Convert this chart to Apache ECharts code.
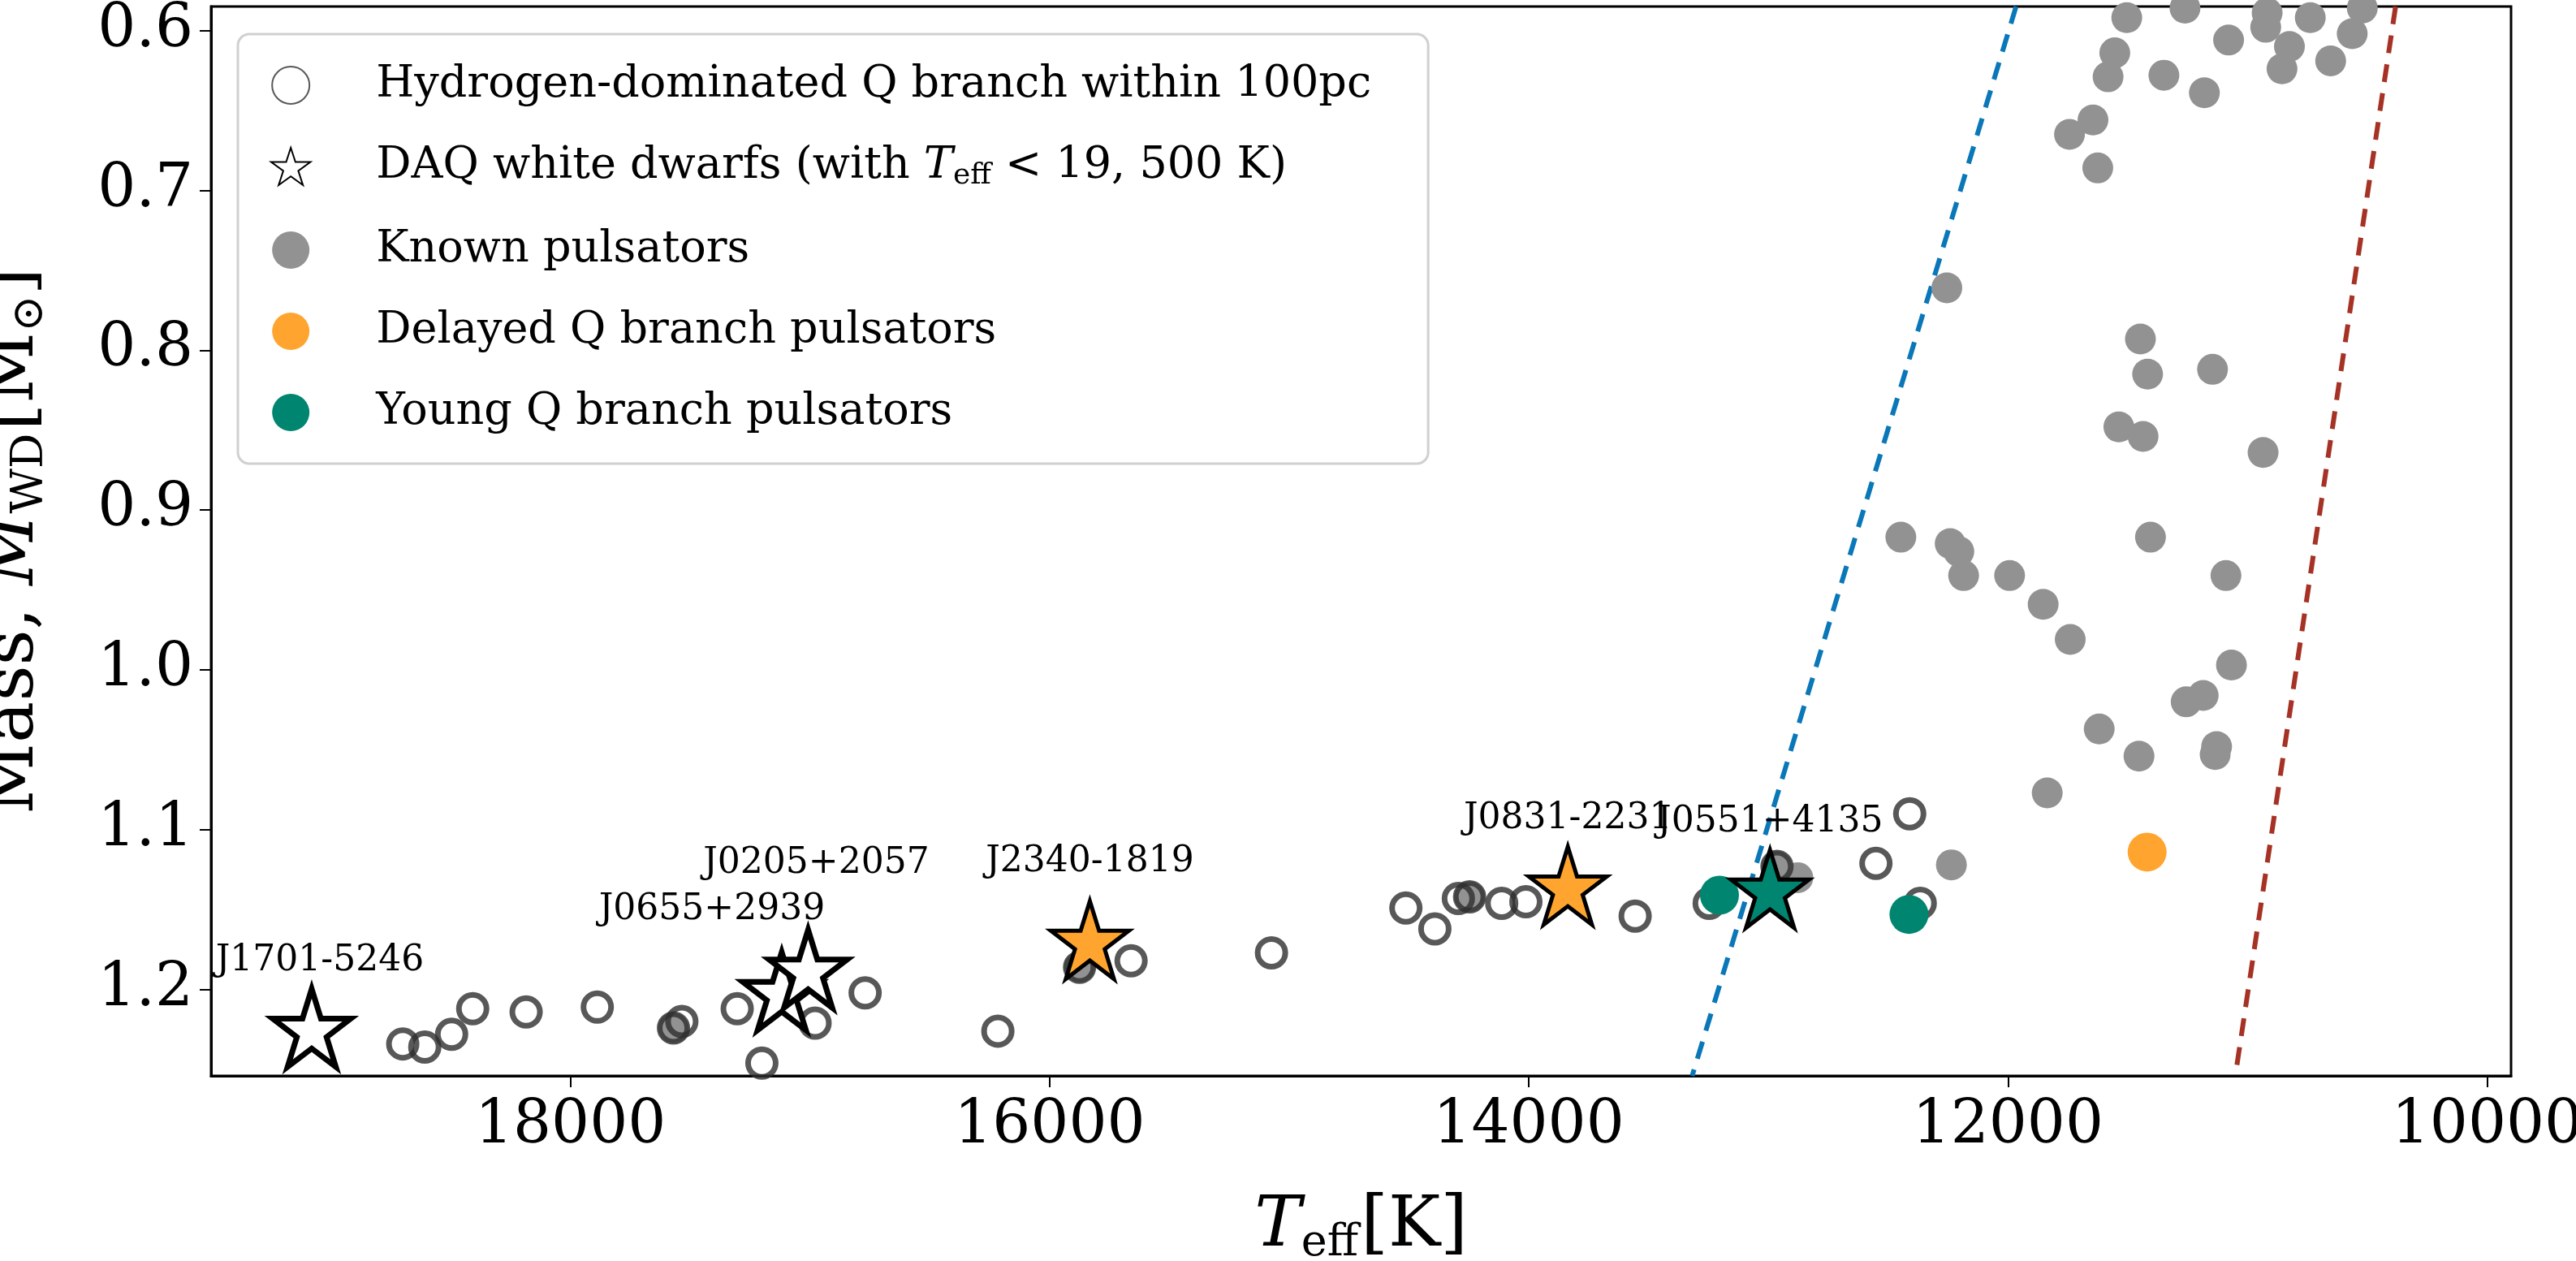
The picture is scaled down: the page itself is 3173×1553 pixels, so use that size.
<!DOCTYPE html>
<html>
<head>
<meta charset="utf-8">
<script src="https://cdn.jsdelivr.net/npm/echarts@6/dist/echarts.min.js"></script>
<style>html,body{margin:0;padding:0;background:#fff}#chart{width:3173px;height:1553px}</style>
</head>
<body>
<div id="chart"></div>
<script>
// Teff [K], mass [Msun]
const qBranch = [
  [18700,1.234],[18608,1.236],[18496,1.228],[18408,1.212],[18185,1.214],[17888,1.211],
  [17570,1.224],[17535,1.220],[17304,1.212],[17201,1.246],[16979,1.221],[16770,1.202],
  [16216,1.226],[15875,1.186],[15660,1.182],[15074,1.177],[14513,1.149],[14392,1.162],
  [14294,1.143],[14247,1.142],[14113,1.146],[14012,1.145],[13556,1.154],[13247,1.146],
  [12964,1.123],[12551,1.121],[12410,1.090],[12366,1.146]
]
const daqNames = ['J1701-5246','J0655+2939','J0205+2057']
const daqValues = [[19080,1.224],[17118,1.201],[17008,1.187]]
const delayedStarNames = ['J2340-1819','J0831-2231']
const delayedStarValues = [[15832,1.169],[13837,1.135]]
const youngStarNames = ['J0551+4135']
const youngStarValues = [[12993,1.137]]
const knownPulsators = [
  [11504,0.592],[11261,0.586],[10918,0.589],[10738,0.592],[10521,0.586],[11079,0.606],
  [10924,0.598],[10563,0.602],[10825,0.610],[10856,0.624],[10653,0.619],[11554,0.614],
  [11582,0.629],[11349,0.628],[11180,0.639],[11645,0.656],[11743,0.665],[11625,0.686],
  [12255,0.761],[11447,0.793],[11417,0.815],[11146,0.812],[11537,0.848],[11436,0.854],
  [10935,0.864],[12447,0.917],[12241,0.921],[12205,0.926],[12185,0.941],[11993,0.941],
  [11853,0.959],[11740,0.981],[11405,0.917],[11090,0.941],[11067,0.997],[11256,1.020],
  [11185,1.016],[11619,1.037],[11453,1.054],[11129,1.048],[11135,1.053],[11836,1.077],
  [12236,1.122],[12877,1.130],[12973,1.257],[17570,1.224],[15875,1.186],[14247,1.142],[12964,1.123]
]
const delayedDots = [[11419,1.114]]
const youngDots = [[13204,1.141],[12413,1.153]]
const blueEdge = [[11966,0.585],[13318,1.254]]
const redEdge = [[10382,0.585],[11051,1.254]]
const xTicks = [18000,16000,14000,12000,10000]
const yTicks = [0.6,0.7,0.8,0.9,1.0,1.1,1.2]

const STAR = 'path://M0,-1 L0.225,-0.309 L0.951,-0.309 L0.363,0.118 L0.588,0.809 L0,0.382 L-0.588,0.809 L-0.363,0.118 L-0.951,-0.309 L-0.225,-0.309 Z'
const serif = 'DejaVu Serif'
// label offsets above each named star
const labelOffsets = {
  'J1701-5246':[10,-82],'J0655+2939':[-86,-100],'J0205+2057':[10,-130],
  'J2340-1819':[0,-96],'J0831-2231':[0,-82],'J0551+4135':[0,-82]
}
function named(names, values) {
  return values.map((v, i) => ({
    value: v, name: names[i],
    label: {show: true, formatter: names[i], position: 'inside', offset: labelOffsets[names[i]],
      fontFamily: serif, fontSize: 44, color: '#000'}
  }))
}

const chart = echarts.init(document.getElementById('chart'))
chart.setOption({
  animation: false,
  grid: {left: 260, right: 80, top: 8, bottom: 228, outerBoundsMode: 'none', containLabel: false,
    show: true, borderColor: '#000', borderWidth: 3, backgroundColor: 'transparent'},
  xAxis: {
    type: 'value', min: 9900, max: 19500, inverse: true,
    name: '{i|T}{s|eff} {n|[K]}', nameLocation: 'middle', nameGap: 140,
    nameTextStyle: {rich: {i: {fontFamily: serif, fontStyle: 'italic', fontSize: 86}, s: {fontFamily: serif, fontSize: 54, padding: [40,0,0,0]}, n: {fontFamily: serif, fontSize: 86}}},
    axisLine: {lineStyle: {color: '#000', width: 3}},
    axisTick: {customValues: xTicks, length: 14, lineStyle: {color: '#000', width: 2}},
    axisLabel: {customValues: xTicks, hideOverlap: false, formatter: v => String(v), fontFamily: serif, fontSize: 74, color: '#000', margin: 26},
    splitLine: {show: false}
  },
  yAxis: {
    type: 'value', min: 0.585, max: 1.254, inverse: true,
    name: '{n|Mass, }{i|M}{s|WD} {n|[M}{s|⊙}{n|]}', nameLocation: 'middle', nameGap: 195, nameRotate: 90,
    nameTextStyle: {rich: {i: {fontFamily: serif, fontStyle: 'italic', fontSize: 86}, s: {fontFamily: serif, fontSize: 54, padding: [40,0,0,0]}, n: {fontFamily: serif, fontSize: 86}}},
    axisLine: {lineStyle: {color: '#000', width: 3}},
    axisTick: {customValues: yTicks, length: 14, lineStyle: {color: '#000', width: 2}},
    axisLabel: {customValues: yTicks, hideOverlap: false, fontFamily: serif, fontSize: 74, color: '#000', margin: 22, formatter: v => v.toFixed(1)},
    splitLine: {show: false}
  },
  legend: {
    left: 293, top: 42, orient: 'vertical', itemGap: 46, padding: [36, 70, 36, 40],
    backgroundColor: '#fff', borderColor: '#d0d0d0', borderWidth: 3, borderRadius: 14,
    itemWidth: 60, itemHeight: 46,
    textStyle: {fontFamily: serif, fontSize: 54, color: '#000', padding: [0,0,0,70],
      rich: {n: {fontFamily: serif, fontSize: 54}, i: {fontFamily: serif, fontSize: 54, fontStyle: 'italic'}, s: {fontFamily: serif, fontSize: 36, padding: [24,0,0,0]}}},
    data: ['Q', 'DAQ', 'Known pulsators', 'Delayed Q branch pulsators', 'Young Q branch pulsators'],
    formatter: n => n === 'Q' ? 'Hydrogen-dominated Q branch within 100pc'
      : n === 'DAQ' ? '{n|DAQ white dwarfs (with }{i|T}{s|eff}{n| < 19, 500 K)}' : n
  },
  series: [
    {type: 'line', data: blueEdge, symbol: 'none', silent: true, lineStyle: {color: '#0a77b8', width: 6, type: [22, 14]}, z: 1},
    {type: 'line', data: redEdge, symbol: 'none', silent: true, lineStyle: {color: '#a53224', width: 6, type: [22, 14]}, z: 1},
    {name: 'Known pulsators', type: 'scatter', data: knownPulsators, symbolSize: 38, itemStyle: {color: '#929292', opacity: 1}, z: 2},
    {name: 'Q', type: 'scatter', data: qBranch, symbolSize: 34, itemStyle: {color: 'rgba(255,255,255,0)', borderColor: '#2e2e2e', borderWidth: 7}, z: 3},
    {name: 'Delayed Q branch pulsators', type: 'scatter', data: delayedDots, symbolSize: 48, itemStyle: {color: '#ffa52f', opacity: 1}, z: 4},
    {name: 'Young Q branch pulsators', type: 'scatter', data: youngDots, symbolSize: 48, itemStyle: {color: '#008670', opacity: 1}, z: 4},
    {name: 'DAQ', type: 'scatter', data: named(daqNames, daqValues), symbol: STAR, symbolSize: 96, itemStyle: {color: '#fff', borderColor: '#000', borderWidth: 7, opacity: 1}, z: 5},
    {name: 'Delayed Q branch pulsators', type: 'scatter', data: named(delayedStarNames, delayedStarValues), symbol: STAR, symbolSize: 96, itemStyle: {color: '#ffa52f', borderColor: '#000', borderWidth: 5, opacity: 1}, z: 5},
    {name: 'Young Q branch pulsators', type: 'scatter', data: named(youngStarNames, youngStarValues), symbol: STAR, symbolSize: 96, itemStyle: {color: '#008670', borderColor: '#000', borderWidth: 5, opacity: 1}, z: 5}
  ]
})
</script>
</body>
</html>
